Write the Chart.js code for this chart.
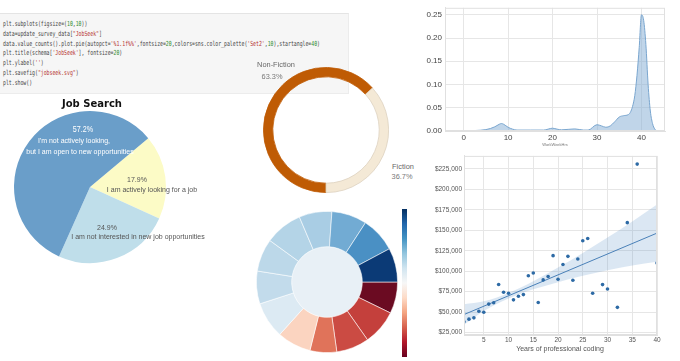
<!DOCTYPE html>
<html>
<head>
<meta charset="utf-8">
<script src="https://cdn.jsdelivr.net/npm/chart.js@4.4.1/dist/chart.umd.min.js"></script>
<style>
  html, body { margin: 0; padding: 0; background: #fff; }
  body { width: 680px; height: 361px; position: relative; overflow: hidden; font-family: "Liberation Sans", Arial, sans-serif; }
  .box { position: absolute; }
  .t { position: absolute; white-space: nowrap; transform: translate(-50%, -50%); line-height: 1; }
  #code { position: absolute; left: 0; top: 13px; width: 348px; height: 79px; background: #f6f6f6; border-top: 1px solid #e4e4e4; border-right: 1px solid #ececec; border-bottom: 1px solid #ececec; }
  #code div { position: absolute; left: 3px; font-family: "DejaVu Sans Mono", monospace; font-size: 7px; color: #444; white-space: nowrap; transform-origin: 0 50%; transform: translateY(-50%) scaleX(0.69); }
  #code .s { color: #b5302e; }
  #code .n { color: #2a8a2a; }
  #cbar { position: absolute; left: 402px; top: 209px; width: 5px; height: 148px;
    background: linear-gradient(to bottom, #053061, #2166ac, #4393c3, #92c5de, #d1e5f0, #f7f7f7, #fddbc7, #f4a582, #d6604d, #b2182b, #67001f); }
</style>
</head>
<body>

<div id="code">
  <div style="top:10px">plt.subplots(figsize=(<span class="n">10</span>,<span class="n">10</span>))</div>
  <div style="top:20px">data=update_survey_data[<span class="s">"JobSeek"</span>]</div>
  <div style="top:30px">data.value_counts().plot.pie(autopct=<span class="s">'%1.1f%%'</span>,fontsize=<span class="n">20</span>,colors=sns.color_palette(<span class="s">'Set2'</span>,<span class="n">10</span>),startangle=<span class="n">40</span>)</div>
  <div style="top:39px">plt.title(schema[<span class="s">'JobSeek'</span>], fontsize=<span class="n">20</span>)</div>
  <div style="top:49px">plt.ylabel(<span class="s">''</span>)</div>
  <div style="top:59px">plt.savefig(<span class="s">"jobseek.svg"</span>)</div>
  <div style="top:69px">plt.show()</div>
</div>

<div class="box" style="left:0;top:95px;width:230px;height:175px"><canvas id="jobPie"></canvas></div>
<div class="box" style="left:263px;top:67px;width:126px;height:126px"><canvas id="books"></canvas></div>
<div class="box" style="left:256px;top:211px;width:142px;height:142px"><canvas id="sunburst"></canvas></div>
<div id="cbar"></div>
<div class="box" style="left:420px;top:0;width:260px;height:150px"><canvas id="kde"></canvas></div>
<div class="box" style="left:420px;top:150px;width:260px;height:211px"><canvas id="reg"></canvas></div>

<div class="t" style="left:92px;top:103px;font:bold 10px 'DejaVu Sans';color:#111">Job Search</div>
<div class="t" style="left:83px;top:129px;font-size:9px;color:#fff;transform:translate(-50%,-50%) scaleX(0.8)">57.2%</div>
<div class="t" style="left:74px;top:140px;font-size:7px;color:#fff">I'm not actively looking,</div>
<div class="t" style="left:80px;top:151px;font-size:7px;color:#fff">but I am open to new opportunities</div>
<div class="t" style="left:137px;top:179px;font-size:7px;color:#555">17.9%</div>
<div class="t" style="left:152px;top:189px;font-size:7px;color:#555">I am actively looking for a job</div>
<div class="t" style="left:107px;top:227px;font-size:7px;color:#555">24.9%</div>
<div class="t" style="left:138px;top:236px;font-size:7px;color:#555">I am not interested in new job opportunities</div>

<div class="t" style="left:276px;top:65px;font-size:7.4px;color:#666">Non-Fiction</div>
<div class="t" style="left:272px;top:77px;font-size:7.4px;color:#777">63.3%</div>
<div class="t" style="left:403px;top:167px;font-size:7.4px;color:#666">Fiction</div>
<div class="t" style="left:402px;top:177px;font-size:7.4px;color:#777">36.7%</div>

<div class="t" style="left:555px;top:145px;font-size:4px;color:#777">WorkWeekHrs</div>
<div class="t" style="left:560px;top:348px;font-size:7px;color:#555">Years of professional coding</div>

<script>
// Job Search pie (clockwise order, starting 50deg from top)
const jobLabels = ['I am actively looking for a job', 'I am not interested in new job opportunities', "I'm not actively looking, but I am open to new opportunities"];
const jobShares = [17.9, 24.9, 57.2];
const jobColors = ['#fcfbc6', '#bfdeea', '#6a9ec9'];

// Fiction / Non-Fiction ring
const bookLabels = ['Non-Fiction', 'Fiction'];
const bookShares = [63.3, 36.7];

// sunburst outer ring, clockwise from 3 o'clock
const ringShares = [26, 29, 27, 22, 28, 30, 27, 27, 31, 27, 29, 29, 28];
const ringColors = ['#6b0b22', '#c4403c', '#cb4b43', '#e0735a', '#fbd4c0', '#dceaf3', '#c2dbeb', '#bcd8e9', '#b4d4e7', '#a9cde4', '#72abd3', '#4a90c4', '#0b3a76'];

// KDE of weekly work hours
const kdeHours = [-3, 0, 5, 7, 8, 8.5, 9, 10, 11, 12, 15, 18, 20, 21, 22, 25, 27, 28, 30, 31, 32, 33, 34, 35, 36, 37, 37.5, 38, 38.5, 39, 39.5, 40, 40.5, 41, 41.5, 42, 42.5, 43, 43.5];
const kdeDensity = [0, 0.0005, 0.003, 0.009, 0.0145, 0.016, 0.0145, 0.008, 0.004, 0.002, 0.002, 0.002, 0.006, 0.004, 0.0025, 0.0045, 0.002, 0.002, 0.0135, 0.011, 0.008, 0.011, 0.02, 0.03, 0.033, 0.035, 0.04, 0.053, 0.076, 0.12, 0.18, 0.25, 0.238, 0.186, 0.10, 0.043, 0.016, 0.004, 0];
const kdeXTicks = [0, 10, 20, 30, 40];
const kdeYTicks = [0, 0.05, 0.10, 0.15, 0.20, 0.25];

// salary vs years of coding
const years = [1, 2, 3, 4, 5, 6, 7, 8, 9, 10, 11, 12, 13, 14, 15, 16, 17, 18, 19, 20, 21, 22, 23, 24, 25, 26, 27, 29, 30, 32, 34, 36, 40];
const salary = [38200, 41400, 43000, 51000, 49800, 59800, 61400, 83800, 74200, 73000, 65000, 69400, 71400, 94400, 97800, 61800, 89400, 93600, 119000, 90200, 108200, 118200, 89000, 115000, 137200, 140000, 73000, 83600, 78200, 55800, 159400, 231000, 110000];
const fitYears = [1, 40];
const fitSalary = [47000, 146600];
const bandYears = [1, 5, 10, 15, 20, 25, 30, 35, 40];
const bandUpper = [59600, 63200, 73500, 87800, 104500, 122300, 141100, 160900, 181600];
const bandLower = [34400, 51200, 66500, 77800, 86500, 94300, 101100, 106900, 111600];
const regXTicks = [5, 10, 15, 20, 25, 30, 35, 40];
const regYTicks = [25000, 50000, 75000, 100000, 125000, 150000, 175000, 200000, 225000];

Chart.defaults.font.family = "'Liberation Sans', Arial, sans-serif";
Chart.defaults.animation = false;
Chart.defaults.maintainAspectRatio = false;
Chart.defaults.events = [];
Chart.defaults.plugins.legend.display = false;
Chart.defaults.plugins.tooltip.enabled = false;

const frame = {
    id: 'frame',
    afterDraw(chart) {
        const a = chart.chartArea, ctx = chart.ctx;
        ctx.save();
        ctx.strokeStyle = '#e0e0e0';
        ctx.lineWidth = 1;
        ctx.strokeRect(a.left + 0.5, a.top + 0.5, a.width - 1, a.height - 1);
        ctx.restore();
    }
};

new Chart(document.getElementById('jobPie'), {
    type: 'pie',
    data: {
        labels: jobLabels,
        datasets: [{ data: jobShares, backgroundColor: jobColors, borderWidth: 0, hoverOffset: 0 }]
    },
    options: {
        rotation: 50,
        layout: { padding: { left: 14, top: 16, right: 64, bottom: 7 } }
    }
});

new Chart(document.getElementById('books'), {
    type: 'doughnut',
    data: {
        labels: bookLabels,
        datasets: [{ data: bookShares, backgroundColor: ['#bf5b04', '#f4e9d6'], borderColor: ['#bf5b04', '#ddd2c0'], borderWidth: 0.8, hoverOffset: 0 }]
    },
    options: { rotation: 180, cutout: '85%' }
});

new Chart(document.getElementById('sunburst'), {
    type: 'doughnut',
    data: {
        datasets: [
            { data: ringShares, backgroundColor: ringColors, borderColor: 'rgba(255,255,255,0.7)', borderWidth: 0.8, hoverOffset: 0 },
            { data: [1], backgroundColor: ['#e8f0f6'], borderWidth: 0, hoverOffset: 0 }
        ]
    },
    options: { rotation: 90, cutout: 0 }
});

new Chart(document.getElementById('kde'), {
    type: 'line',
    data: {
        datasets: [{
            data: kdeHours.map((h, i) => ({ x: h, y: kdeDensity[i] })),
            borderColor: '#7aa6cf',
            borderWidth: 1,
            backgroundColor: 'rgba(130,172,212,0.5)',
            fill: 'origin',
            pointRadius: 0,
            cubicInterpolationMode: 'monotone'
        }]
    },
    options: {
        layout: { padding: { top: 3, right: 15 } },
        scales: {
            x: {
                type: 'linear', min: -4.2, max: 45.3,
                afterBuildTicks: s => { s.ticks = kdeXTicks.map(v => ({ value: v })); },
                afterFit: s => { s.height = 19; },
                ticks: { font: { size: 8 }, color: '#444', padding: 1.5 },
                grid: { color: '#e6e6e6', drawTicks: false },
                border: { color: '#e0e0e0' }
            },
            y: {
                min: 0, max: 0.265,
                afterBuildTicks: s => { s.ticks = kdeYTicks.map(v => ({ value: v })); },
                afterFit: s => { s.width = 25; },
                ticks: { font: { size: 8 }, color: '#444', padding: 3, callback: v => v.toFixed(2) },
                grid: { color: '#e6e6e6', drawTicks: false },
                border: { color: '#e0e0e0' }
            }
        }
    },
    plugins: [frame]
});

new Chart(document.getElementById('reg'), {
    type: 'scatter',
    data: {
        datasets: [
            {
                data: years.map((y, i) => ({ x: y, y: salary[i] })),
                backgroundColor: '#2d6aa5', borderWidth: 0, pointRadius: 1.8
            },
            {
                type: 'line',
                data: fitYears.map((y, i) => ({ x: y, y: fitSalary[i] })),
                borderColor: '#4a80b8', borderWidth: 1, pointRadius: 0, fill: false
            },
            {
                type: 'line',
                data: bandYears.map((y, i) => ({ x: y, y: bandLower[i] })),
                borderWidth: 0, pointRadius: 0, fill: false, cubicInterpolationMode: 'monotone'
            },
            {
                type: 'line',
                data: bandYears.map((y, i) => ({ x: y, y: bandUpper[i] })),
                borderWidth: 0, pointRadius: 0, fill: '-1',
                backgroundColor: 'rgba(90,145,200,0.22)', cubicInterpolationMode: 'monotone'
            }
        ]
    },
    options: {
        layout: { padding: { top: 3, right: 23 } },
        scales: {
            x: {
                type: 'linear', min: 1, max: 40,
                afterBuildTicks: s => { s.ticks = regXTicks.map(v => ({ value: v })); },
                afterFit: s => { s.height = 26; },
                ticks: { font: { size: 6.5 }, color: '#555', padding: 1 },
                grid: { color: '#e6e6e6', drawTicks: false },
                border: { color: '#e0e0e0' }
            },
            y: {
                min: 22000, max: 241000,
                afterBuildTicks: s => { s.ticks = regYTicks.map(v => ({ value: v })); },
                afterFit: s => { s.width = 44; },
                ticks: { font: { size: 6.5 }, color: '#555', padding: 2, callback: v => '$' + v.toLocaleString('en-US') },
                grid: { color: '#e6e6e6', drawTicks: false },
                border: { color: '#e0e0e0' }
            }
        }
    },
    plugins: [frame]
});
</script>
</body>
</html>
